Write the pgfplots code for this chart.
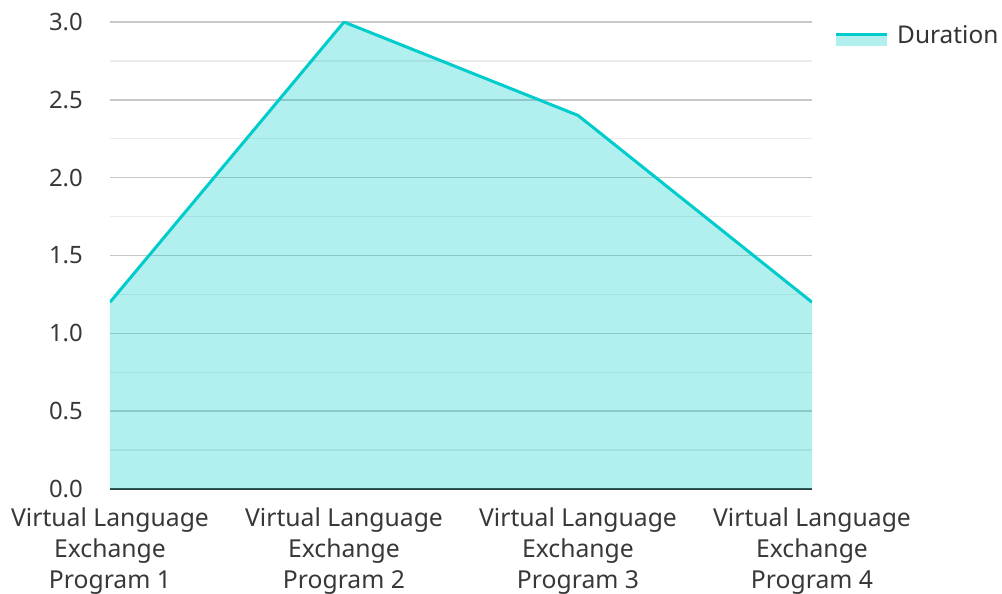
\documentclass[border=0pt]{standalone}
\usepackage{pgfplots}
\pgfplotsset{compat=1.18}
\usepackage{fontspec}
\setmainfont{Noto Sans}
\definecolor{linec}{RGB}{0,204,204}
\definecolor{txt}{RGB}{56,56,56}
\definecolor{majg}{RGB}{200,200,200}
\definecolor{ming}{RGB}{235,235,235}
\definecolor{axc}{RGB}{51,51,51}
\begin{document}
\begin{tikzpicture}
\path[use as bounding box] (-110bp,-105bp) rectangle (892bp,489bp);
\begin{axis}[
  at={(0,0)}, anchor=south west, scale only axis,
  width=702bp, height=467bp,
  xmin=0, xmax=3, ymin=0, ymax=3,
  axis x line=bottom, axis y line=left,
  axis line style={-},
  separate axis lines,
  x axis line style={draw=axc, line width=2bp},
  y axis line style={draw=none},
  major tick length=0pt, minor tick length=0pt,
  tick style={draw=none},
  ytick={0,0.5,1,1.5,2,2.5,3},
  minor ytick={0.25,0.75,1.25,1.75,2.25,2.75},
  ymajorgrids, yminorgrids,
  major grid style={draw=majg, line width=1.5bp},
  minor grid style={draw=ming, line width=1.2bp},
  /pgf/number format/assume math mode=true,
  yticklabel={\pgfmathprintnumber[fixed,fixed zerofill,precision=1]{\tick}},
  y tick label style={font=\fontsize{24}{28}\selectfont, text=txt, anchor=east, inner sep=0pt, xshift=-27bp},
  xtick={0,1,2,3},
  xticklabels={Virtual Language\\Exchange\\Program 1, Virtual Language\\Exchange\\Program 2, Virtual Language\\Exchange\\Program 3, Virtual Language\\Exchange\\Program 4},
  x tick label style={align=center, font=\fontsize{24.8}{31}\selectfont, text=txt, anchor=north, inner sep=0pt, yshift=-18.5bp},
  legend style={at={(rel axis cs:1,1)}, anchor=north west, xshift=22.5bp, yshift=-3bp, draw=none, fill=none, inner sep=0pt, font=\fontsize{24.5}{28}\selectfont, text=axc, nodes={inner sep=0pt}, column sep=8.5bp},
  legend cell align=left,
]
\addplot[draw=none, fill=linec, fill opacity=0.3, forget plot] coordinates {(0,1.2) (1,3.0) (2,2.4) (3,1.2)} \closedcycle;
\addplot[linec, line width=3bp, legend image code/.code={
    \path[draw=none, fill=linec, fill opacity=0.3] (0bp,-11bp) rectangle (51bp,0bp);
    \draw[linec, line width=3bp] (0bp,0bp) -- (51bp,0bp);}]
  coordinates {(0,1.2) (1,3.0) (2,2.4) (3,1.2)};
\addlegendentry{Duration}
\end{axis}
\end{tikzpicture}
\end{document}
